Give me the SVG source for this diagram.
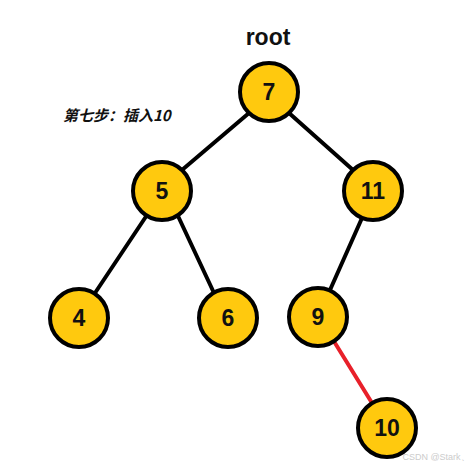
<svg xmlns="http://www.w3.org/2000/svg" width="474" height="470" viewBox="0 0 474 470">
<style>
.n circle{fill:#FFC90E;stroke:#000;stroke-width:4}
.n text{font-family:"Liberation Sans",Arial,sans-serif;font-weight:bold;font-size:23px;fill:#111;text-anchor:middle;dominant-baseline:central}
.e{stroke:#000;stroke-width:4;stroke-linecap:round}
.r{stroke:#E8202A;stroke-width:4;stroke-linecap:round}
</style>
<rect width="474" height="470" fill="#fff"/>
<text x="268" y="45" font-family="'Liberation Sans',Arial,sans-serif" font-weight="bold" font-size="23" text-anchor="middle" fill="#111">root</text>
<text x="63" y="121" font-family="'Noto Sans CJK SC','Liberation Sans',sans-serif" font-weight="bold" font-style="italic" font-size="15" fill="#111">第七步：插入10</text>
<g id="connectors">
<line class="e" x1="249" y1="113" x2="182" y2="170"/>
<line class="e" x1="289" y1="113" x2="353" y2="170"/>
<line class="e" x1="147" y1="215" x2="95" y2="293"/>
<line class="e" x1="178" y1="216" x2="214" y2="293"/>
<line class="e" x1="362" y1="218" x2="330" y2="290"/>
<line class="r" x1="335" y1="343" x2="372" y2="403"/>
</g>
<g id="n7" class="n"><circle cx="269" cy="92" r="29"/><text x="269" y="92">7</text></g>
<g id="n5" class="n"><circle cx="162" cy="191" r="29"/><text x="162" y="191">5</text></g>
<g id="n11" class="n"><circle cx="373" cy="191" r="29"/><text x="373" y="191">11</text></g>
<g id="n4" class="n"><circle cx="79" cy="318" r="29"/><text x="79" y="318">4</text></g>
<g id="n6" class="n"><circle cx="228" cy="318" r="29"/><text x="228" y="318">6</text></g>
<g id="n9" class="n"><circle cx="318" cy="317" r="29"/><text x="318" y="317">9</text></g>
<g id="n10" class="n"><circle cx="387" cy="428" r="29"/><text x="387" y="428">10</text></g>
<text x="436" y="460" font-family="'Liberation Sans',Arial,sans-serif" font-size="9" text-anchor="middle" fill="#ccc">CSDN @Stark、</text>
</svg>
